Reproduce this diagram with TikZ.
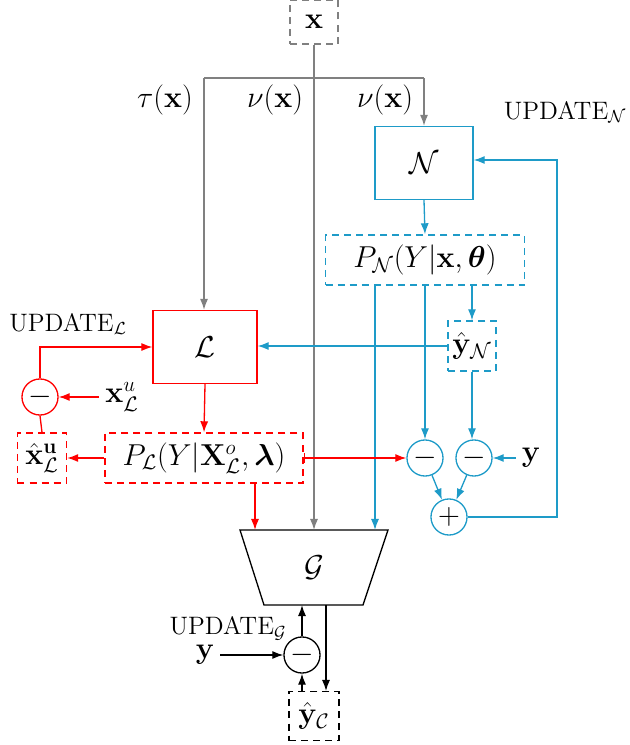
\documentclass[tikz,border=0pt]{standalone}
\usepackage{amsmath,bm}
\usetikzlibrary{arrows.meta}
\definecolor{cy}{RGB}{30,155,200}
\definecolor{gr}{RGB}{128,128,128}
\begin{document}
\begin{tikzpicture}[x=0.5714pt,y=-0.5714pt,font=\LARGE,
  ar/.style={-{Latex[length=6.3pt,width=4.6pt]},line width=0.75pt},
  tar/.style={{Bar[width=5.7pt]}-{Latex[length=6.3pt,width=4.6pt]},line width=0.75pt},
  ln/.style={line width=0.75pt},
  bx/.style={draw,line width=0.75pt,inner sep=0pt},
  db/.style={draw,dashed,dash pattern=on 4pt off 2.9pt,line width=0.75pt,inner sep=0pt},
  op/.style={draw,circle,line width=0.75pt,minimum size=20.6pt,inner sep=0pt},
  up/.style={font=\Large}]
\useasboundingbox (0,0) rectangle (630,745);
% nodes
\node[db,gr,minimum width=27.4pt,minimum height=25.1pt,text=black] (x) at (314,22) {$\mathbf{x}$};
\node[bx,cy,minimum width=56pt,minimum height=41.7pt,text=black] (N) at (424,163) {$\mathcal{N}$};
\node[db,cy,minimum width=113.7pt,minimum height=28.6pt,text=black] (PN) at (425,260) {$P_{\mathcal{N}}(Y|\mathbf{x},\bm{\theta})$};
\node[db,cy,minimum width=27.4pt,minimum height=28.6pt,text=black] (yN) at (472,346) {$\hat{\mathbf{y}}_{\mathcal{N}}$};
\node[bx,red,minimum width=59.4pt,minimum height=41.7pt,text=black] (L) at (205,347) {$\mathcal{L}$};
\node[op,red,text=black] (mL) at (40,397) {$-$};
\node (xu) at (122,397) {$\mathbf{x}^u_{\mathcal{L}}$};
\node[db,red,minimum width=28pt,minimum height=28.6pt,text=black] (xh) at (42,458) {$\hat{\mathbf{x}}^{\mathbf{u}}_{\mathcal{L}}$};
\node[db,red,minimum width=113.1pt,minimum height=28.6pt,text=black] (PL) at (204,458) {$P_{\mathcal{L}}(Y|\mathbf{X}^o_{\mathcal{L}},\bm{\lambda})$};
\node[op,cy,text=black] (m1) at (425,458) {$-$};
\node[op,cy,text=black] (m2) at (474,458) {$-$};
\node (y1) at (531,458) {$\mathbf{y}$};
\node[op,cy,text=black] (pl) at (449,517) {$+$};
% G
\coordinate (Gtl) at (240,530); \coordinate (Gtr) at (388,530);
\draw[ln] (Gtl) -- (Gtr) -- (363,605) -- (264,605) -- cycle;
\node (G) at (314,568) {$\mathcal{G}$};
\node[op,text=black] (mG) at (302,655) {$-$};
\node (yG) at (205,655) {$\mathbf{y}$};
\node[db,minimum width=28.6pt,minimum height=28pt] (yC) at (314,716) {$\hat{\mathbf{y}}_{\mathcal{C}}$};
% labels
\node at (165,100) {$\tau(\mathbf{x})$};
\node at (275,100) {$\nu(\mathbf{x})$};
\node at (385,100) {$\nu(\mathbf{x})$};
\node[up] at (565,112) {UPDATE$_{\mathcal{N}}$};
\node[up] at (68,324) {UPDATE$_{\mathcal{L}}$};
\node[up] at (228,628) {UPDATE$_{\mathcal{G}}$};
% gray
\coordinate (gs) at (204,78); \coordinate (ge) at (424,78);
\draw[ln,gr] (gs) -- (ge);
\draw[ar,gr] (x.south) -- (314,530);
\draw[ar,gr] (gs) -- (gs|-L.north);
\draw[ar,gr] (ge) -- (N.north);
% cyan
\draw[ar,cy] (N.south) -- (PN.north);
\draw[ar,cy] (375,285) -- (375,530);
\draw[ar,cy] (m1|-PN.south) -- (m1.north);
\draw[ar,cy] (yN|-PN.south) -- (yN.north);
\draw[ar,cy] (yN.west) -- (L.east|-yN.west);
\draw[ar,cy] (yN.south) -- (yN.south|-m2.north);
\draw[ar,cy] (y1) -- (m2.east);
\draw[ar,cy] (m1) -- (pl);
\draw[ar,cy] (m2) -- (pl);
\draw[ar,cy] (pl.east) -- (557,517) -- (557,160) -- (N.east|-0,160);
% red
\draw[ar,red] (mL.north) -- (40,347) -- (L.west|-0,347);
\draw[ar,red] (xu) -- (mL.east);
\draw[ln,red] (mL.south) -- (xh.north);
\draw[ar,red] (L.south) -- (PL.north);
\draw[ar,red] (PL.west) -- (xh.east);
\draw[tar,red] (PL.east) -- (m1.west);
\draw[ar,red] (255,483) -- (255,530);
% black
\draw[ar] (mG.north) -- (302,605);
\draw[ar] (326,605) -- (326,691);
\draw[ar] (yG) -- (mG.west);
\draw[ar] (302,691) -- (mG.south);
\end{tikzpicture}
\end{document}
